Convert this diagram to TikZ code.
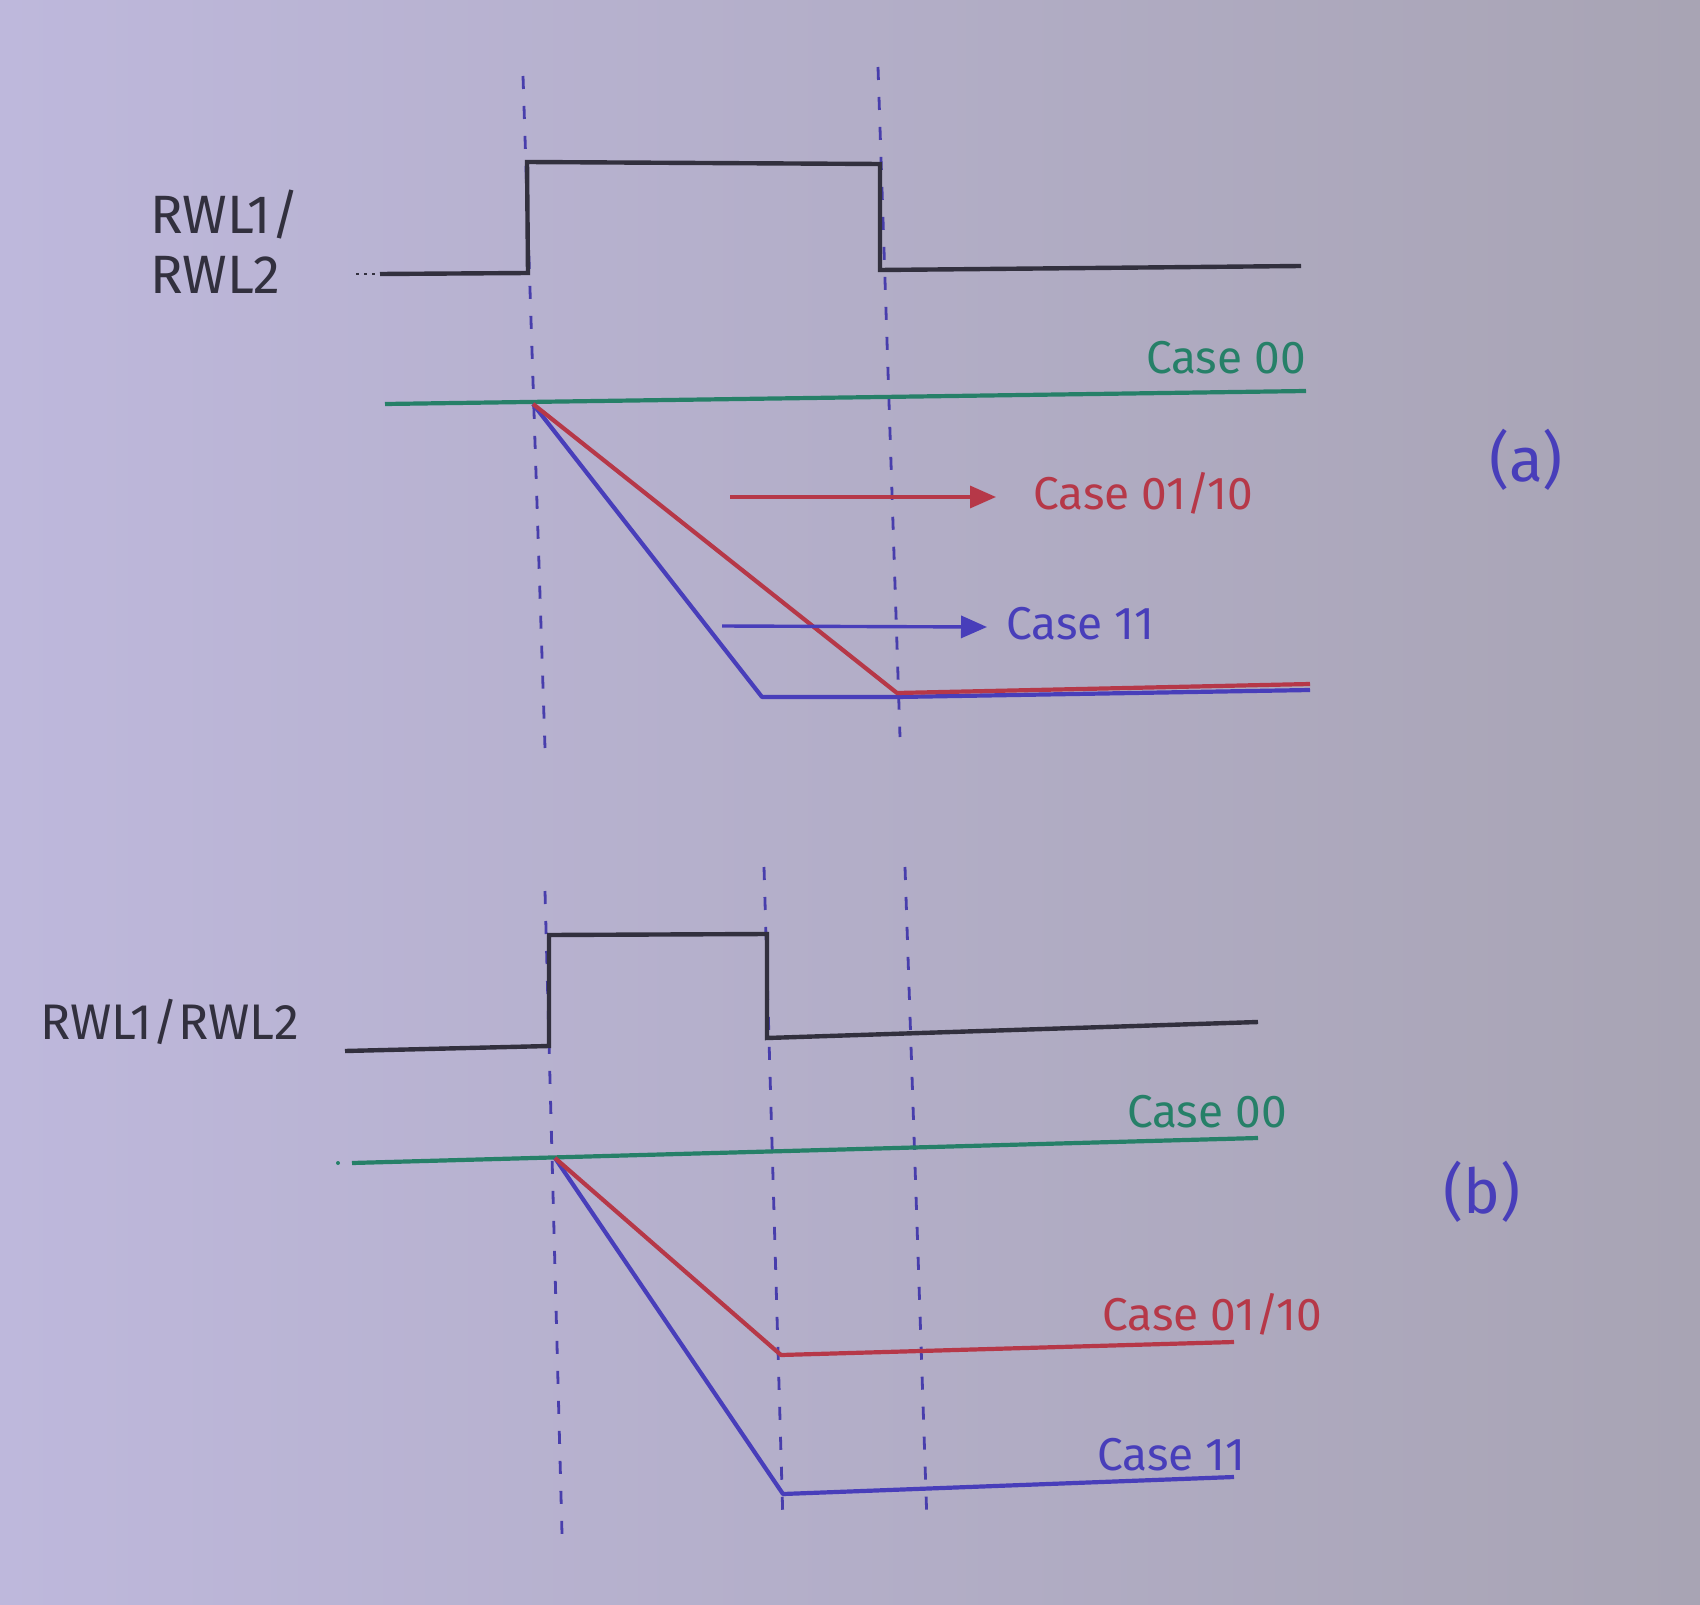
\documentclass[tikz,border=0pt]{standalone}
\usepackage{fontspec}
\setmainfont{Fira Sans}
\usetikzlibrary{arrows.meta}
\definecolor{bgL}{RGB}{190,184,220}
\definecolor{bgR}{RGB}{168,164,180}
\definecolor{pulsec}{RGB}{50,48,62}
\definecolor{dashc}{RGB}{72,62,172}
\definecolor{greenc}{RGB}{38,128,104}
\definecolor{redc}{RGB}{182,56,72}
\definecolor{bluec}{RGB}{72,62,186}
\begin{document}
\begin{tikzpicture}[x=1pt,y=-1pt,
  pulse/.style={draw=pulsec,line width=4.4pt,line join=miter},
  guide/.style={draw=dashc,line width=2.8pt,dash pattern=on 13pt off 17pt},
  gline/.style={draw=greenc,line width=4.2pt},
  rline/.style={draw=redc,line width=4.2pt,line join=round},
  bline/.style={draw=bluec,line width=4.2pt,line join=round},
  tip/.style={-{Triangle[length=26pt,width=22pt]}},
  lab/.style={inner sep=0pt,font=\fontsize{46}{50}\selectfont},
  sig/.style={inner sep=0pt,text=pulsec,font=\fontsize{54}{60}\selectfont,align=left},
  part/.style={inner sep=0pt,text=bluec,font=\fontsize{62}{70}\selectfont}]
\useasboundingbox (0,0) rectangle (1700,1605);
\shade[left color=bgL,right color=bgR] (0,0) rectangle (1700,1605);

% ---------------- (a) ----------------
\coordinate (ga1t) at (523,76);  \coordinate (ga1b) at (545,748);
\coordinate (ga2t) at (878,67);  \coordinate (ga2b) at (900,737);
\draw[guide] (ga1t) -- (ga1b);
\draw[guide] (ga2t) -- (ga2b);

\node[sig,anchor=west] (sa) at (150,242) {RWL1/\\RWL2};
\coordinate (pa0) at (380,274);
\coordinate (pa1) at (528,273);
\coordinate (pa2) at (527,162);
\coordinate (pa3) at (880,164);
\coordinate (pa4) at (880,270);
\coordinate (pa5) at (1301,266);
\draw[pulsec,line width=2pt,dash pattern=on 3pt off 5pt] (356,274) -- (pa0);
\draw[pulse] (pa0) -- (pa1) -- (pa2) -- (pa3) -- (pa4) -- (pa5);

\coordinate (gaS) at (385,404);
\coordinate (gaE) at (1306,391);
\draw[gline] (gaS) -- (gaE);
\node[lab,text=greenc] (ca00) at (1226,358) {Case 00};

\coordinate (oa) at (533,404);
\coordinate (rka) at (897,693);
\coordinate (rea) at (1310,684);
\coordinate (bka) at (762,697);
\coordinate (bea) at (1310,690);
\draw[bline] (oa) -- (bka) -- (897,697) -- (bea);
\draw[rline] (oa) -- (rka) -- (rea);

\node[lab,text=redc] (ca01) at (1143,493) {Case 01/10};
\coordinate (raS) at (730,497);
\coordinate (raE) at (996,497);
\draw[rline,tip,line width=3.4pt] (raS) -- (raE);

\node[lab,text=bluec] (ca11) at (1080,624) {Case 11};
\coordinate (baS) at (722,626);
\coordinate (baE) at (987,627);
\draw[bline,tip,line width=3.4pt] (baS) -- (baE);

\node[part] (pa) at (1526,460) {(a)};

% ---------------- (b) ----------------
\coordinate (gb1t) at (545,891);  \coordinate (gb1b) at (562,1534);
\coordinate (gb2t) at (764,867);  \coordinate (gb2b) at (783,1523);
\coordinate (gb3t) at (905,867);  \coordinate (gb3b) at (927,1523);
\draw[guide] (gb1t) -- (gb1b);
\draw[guide] (gb2t) -- (gb2b);
\draw[guide] (gb3t) -- (gb3b);

\node[sig,anchor=west,font=\fontsize{50}{56}\selectfont] (sb) at (40,1022) {RWL1/RWL2};
\coordinate (pb0) at (345,1051);
\coordinate (pb1) at (549,1046);
\coordinate (pb2) at (549,935);
\coordinate (pb3) at (767,934);
\coordinate (pb4) at (767,1038);
\coordinate (pb5) at (1258,1022);
\draw[pulse] (pb0) -- (pb1) -- (pb2) -- (pb3) -- (pb4) -- (pb5);

\coordinate (gbS) at (352,1163);
\coordinate (gbE) at (1258,1138);
\draw[gline] (gbS) -- (gbE);
\fill[greenc] (338,1163) circle (2pt);
\node[lab,text=greenc] (cb00) at (1207,1112) {Case 00};

\coordinate (ob) at (555,1158);
\coordinate (rkb) at (781,1355);
\coordinate (reb) at (1234,1342);
\coordinate (bkb) at (783,1494);
\coordinate (beb) at (1234,1477);
\draw[bline] (ob) -- (bkb) -- (beb);
\draw[rline] (ob) -- (rkb) -- (reb);

\node[lab,text=redc] (cb01) at (1212,1314) {Case 01/10};
\node[lab,text=bluec] (cb11) at (1171,1455) {Case 11};

\node[part] (pb) at (1482,1192) {(b)};
\end{tikzpicture}
\end{document}
